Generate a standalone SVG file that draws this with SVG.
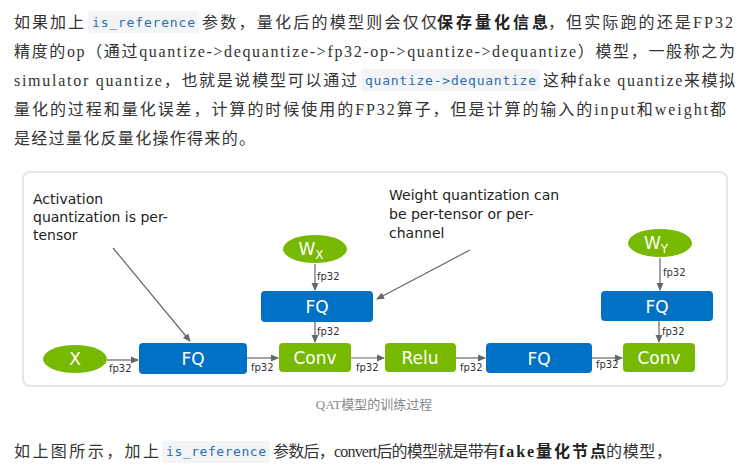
<svg xmlns="http://www.w3.org/2000/svg" width="745" height="466" viewBox="0 0 745 466">
<style>
.t{font-family:"Liberation Serif","Noto Sans CJK SC",serif;font-size:16px;fill:#333}
.b{font-weight:bold;fill:#222}
.c{font-family:"DejaVu Sans Mono","Liberation Mono",monospace;font-size:13px;fill:#2a6db5}
.cb{fill:#f2f4f6}
.bl{fill:#0071c5}
.gr{fill:#76b900}
.nl{font-family:"DejaVu Sans",sans-serif;font-size:17px;fill:#fff;text-anchor:middle}
.f{font-family:"DejaVu Sans",sans-serif;font-size:10px;fill:#333}
.a{font-family:"DejaVu Sans",sans-serif;font-size:14px;fill:#222}
.e{stroke:#666;stroke-width:1.2;fill:none;marker-end:url(#ar)}
</style>
<defs><marker id="ar" markerWidth="8" markerHeight="8" refX="7" refY="4" orient="auto" markerUnits="userSpaceOnUse"><path d="M0,0.5 L8,4 L0,7.5z" fill="#666"/></marker></defs>
<rect width="745" height="466" fill="#fff"/>
<rect class="cb" x="88" y="11" width="111" height="22" rx="3"/>
<rect class="cb" x="361" y="69" width="179" height="22" rx="3"/>
<rect class="cb" x="162" y="441" width="108" height="22" rx="3"/>
<text class="t" y="28"><tspan x="14" textLength="70">如果加上</tspan><tspan class="c" x="92" y="27" textLength="103">is_reference</tspan><tspan x="202" y="28" textLength="235">参数，量化后的模型则会仅仅</tspan><tspan class="b" x="437" textLength="111">保存量化信息</tspan><tspan x="548" textLength="185">，但实际跑的还是FP32</tspan></text>
<text class="t" x="14" y="57" textLength="721">精度的op（通过quantize-&gt;dequantize-&gt;fp32-op-&gt;quantize-&gt;dequantize）模型，一般称之为</text>
<text class="t" y="86"><tspan x="14" textLength="343">simulator quantize，也就是说模型可以通过</tspan><tspan class="c" x="365" y="85" textLength="171">quantize-&gt;dequantize</tspan><tspan x="543" y="86" textLength="192">这种fake quantize来模拟</tspan></text>
<text class="t" x="14" y="115" textLength="712">量化的过程和量化误差，计算的时候使用的FP32算子，但是计算的输入的input和weight都</text>
<text class="t" x="14" y="144" textLength="241">是经过量化反量化操作得来的。</text>
<rect x="23" y="172" width="704" height="214" rx="7" fill="#fff" stroke="#e6e6e6" stroke-width="2"/>
<text class="a" x="33" y="204">Activation</text>
<text class="a" x="33" y="222">quantization is per-</text>
<text class="a" x="33" y="240">tensor</text>
<text class="a" x="389" y="200">Weight quantization can</text>
<text class="a" x="389" y="219">be per-tensor or per-</text>
<text class="a" x="389" y="238">channel</text>
<g id="connectors">
<line class="e" x1="113" y1="248" x2="190" y2="341"/>
<line class="e" x1="470" y1="250" x2="377" y2="299"/>
<line class="e" x1="107" y1="360" x2="138" y2="360"/>
<line class="e" x1="247" y1="358" x2="278" y2="358"/>
<line class="e" x1="351" y1="358" x2="384" y2="358"/>
<line class="e" x1="456" y1="358" x2="485" y2="358"/>
<line class="e" x1="592" y1="358" x2="622" y2="358"/>
<line class="e" x1="315" y1="264" x2="315" y2="290"/>
<line class="e" x1="315" y1="322" x2="315" y2="342"/>
<line class="e" x1="660" y1="258" x2="660" y2="290"/>
<line class="e" x1="659" y1="321" x2="659" y2="342"/>
<text class="f" x="109" y="372">fp32</text>
<text class="f" x="251" y="371">fp32</text>
<text class="f" x="356" y="371">fp32</text>
<text class="f" x="460" y="371">fp32</text>
<text class="f" x="596" y="368">fp32</text>
<text class="f" x="317" y="280">fp32</text>
<text class="f" x="317" y="335">fp32</text>
<text class="f" x="663" y="276">fp32</text>
<text class="f" x="662" y="335">fp32</text>
</g>
<g id="X"><ellipse class="gr" cx="75" cy="359" rx="32" ry="14"/><text class="nl" x="75" y="365">X</text></g>
<g id="FQ1"><rect class="bl" x="139" y="343" width="108" height="31" rx="4"/><text class="nl" x="193" y="365">FQ</text></g>
<g id="Conv1"><rect class="gr" x="279" y="343" width="72" height="29" rx="4"/><text class="nl" x="315" y="364">Conv</text></g>
<g id="Wx"><ellipse class="gr" cx="315" cy="249" rx="32" ry="14"/><text class="nl" x="311" y="255">W<tspan font-size="12" dy="4">X</tspan></text></g>
<g id="FQw"><rect class="bl" x="261" y="291" width="112" height="31" rx="4"/><text class="nl" x="317" y="313">FQ</text></g>
<g id="Relu"><rect class="gr" x="385" y="343" width="71" height="29" rx="4"/><text class="nl" x="420" y="364">Relu</text></g>
<g id="FQ3"><rect class="bl" x="486" y="343" width="106" height="30" rx="4"/><text class="nl" x="539" y="365">FQ</text></g>
<g id="Conv2"><rect class="gr" x="623" y="343" width="72" height="29" rx="4"/><text class="nl" x="659" y="364">Conv</text></g>
<g id="Wy"><ellipse class="gr" cx="660" cy="243" rx="32" ry="14"/><text class="nl" x="656" y="249">W<tspan font-size="12" dy="4">Y</tspan></text></g>
<g id="FQy"><rect class="bl" x="601" y="291" width="112" height="30" rx="4"/><text class="nl" x="657" y="313">FQ</text></g>
<text x="374" y="409" text-anchor="middle" style="font-family:'Liberation Serif','Noto Sans CJK SC',serif;font-size:13px;fill:#888">QAT模型的训练过程</text>
<text class="t" y="457"><tspan x="14" textLength="145">如上图所示，加上</tspan><tspan class="c" x="166" y="456" textLength="100">is_reference</tspan><tspan x="273" y="457" textLength="226">参数后，convert后的模型就是带有</tspan><tspan class="b" x="499" textLength="107">fake量化节点</tspan><tspan x="606" textLength="66">的模型，</tspan></text>
</svg>
